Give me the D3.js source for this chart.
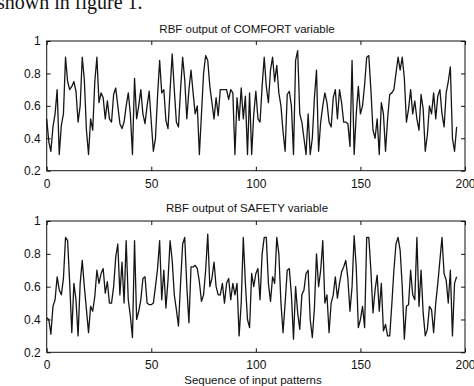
<!DOCTYPE html>
<html>
<head>
<meta charset="utf-8">
<script src="https://cdn.jsdelivr.net/npm/d3@7"></script>
<style>
  body { margin: 0; background: #fff; }
  svg { display: block; }
  text { font-family: "Liberation Sans", Arial, sans-serif; fill: #111; }
</style>
</head>
<body>
<div id="chart"></div>
<script>
// values, one per input pattern (0..196)
var comfort = [
  0.52, 0.38, 0.32, 0.47, 0.55, 0.70, 0.30, 0.48, 0.55, 0.90,
  0.75, 0.70, 0.72, 0.75, 0.69, 0.50, 0.60, 0.90, 0.76, 0.45,
  0.30, 0.52, 0.45, 0.75, 0.90, 0.62, 0.68, 0.65, 0.52, 0.63,
  0.52, 0.50, 0.67, 0.71, 0.60, 0.49, 0.46, 0.50, 0.60, 0.68,
  0.55, 0.30, 0.77, 0.52, 0.60, 0.70, 0.55, 0.49, 0.60, 0.69,
  0.50, 0.32, 0.40, 0.66, 0.88, 0.68, 0.70, 0.51, 0.46, 0.70,
  0.92, 0.70, 0.50, 0.47, 0.70, 0.90, 0.76, 0.52, 0.70, 0.82,
  0.68, 0.55, 0.60, 0.30, 0.55, 0.80, 0.91, 0.88, 0.72, 0.62,
  0.52, 0.65, 0.54, 0.70, 0.70, 0.70, 0.70, 0.64, 0.70, 0.68,
  0.30, 0.65, 0.51, 0.71, 0.52, 0.66, 0.30, 0.68, 0.30, 0.55,
  0.69, 0.52, 0.50, 0.72, 0.90, 0.72, 0.62, 0.82, 0.90, 0.75,
  0.85, 0.68, 0.60, 0.44, 0.32, 0.67, 0.69, 0.60, 0.30, 0.88,
  0.94, 0.55, 0.50, 0.40, 0.30, 0.55, 0.30, 0.40, 0.65, 0.82,
  0.32, 0.50, 0.60, 0.68, 0.62, 0.50, 0.47, 0.65, 0.70, 0.52,
  0.70, 0.62, 0.50, 0.50, 0.49, 0.35, 0.88, 0.30, 0.55, 0.72,
  0.55, 0.60, 0.73, 0.90, 0.91, 0.70, 0.45, 0.40, 0.52, 0.30,
  0.62, 0.55, 0.32, 0.52, 0.67, 0.68, 0.70, 0.80, 0.90, 0.82,
  0.90, 0.77, 0.50, 0.58, 0.70, 0.55, 0.63, 0.52, 0.45, 0.67,
  0.58, 0.32, 0.42, 0.60, 0.55, 0.68, 0.52, 0.66, 0.70, 0.55,
  0.47, 0.68, 0.75, 0.84, 0.40, 0.32, 0.47
];

var safety = [
  0.41, 0.40, 0.31, 0.48, 0.52, 0.66, 0.58, 0.55, 0.65, 0.90,
  0.88, 0.62, 0.32, 0.62, 0.52, 0.30, 0.62, 0.76, 0.60, 0.46,
  0.32, 0.48, 0.45, 0.54, 0.70, 0.62, 0.68, 0.71, 0.56, 0.63,
  0.50, 0.50, 0.60, 0.78, 0.86, 0.55, 0.75, 0.50, 0.88, 0.52,
  0.42, 0.29, 0.88, 0.40, 0.45, 0.52, 0.65, 0.66, 0.50, 0.49,
  0.49, 0.50, 0.60, 0.71, 0.88, 0.52, 0.70, 0.47, 0.64, 0.88,
  0.76, 0.55, 0.46, 0.36, 0.62, 0.86, 0.90, 0.60, 0.38, 0.72,
  0.72, 0.73, 0.71, 0.63, 0.51, 0.55, 0.70, 0.92, 0.60, 0.65,
  0.75, 0.60, 0.55, 0.55, 0.62, 0.50, 0.62, 0.65, 0.52, 0.62,
  0.55, 0.62, 0.30, 0.50, 0.90, 0.62, 0.40, 0.35, 0.68, 0.60,
  0.68, 0.71, 0.52, 0.80, 0.90, 0.90, 0.62, 0.51, 0.66, 0.62,
  0.90, 0.80, 0.50, 0.32, 0.50, 0.70, 0.71, 0.55, 0.28, 0.60,
  0.44, 0.34, 0.55, 0.58, 0.68, 0.70, 0.40, 0.29, 0.47, 0.80,
  0.60, 0.70, 0.88, 0.50, 0.55, 0.32, 0.50, 0.55, 0.66, 0.53,
  0.62, 0.69, 0.72, 0.76, 0.65, 0.45, 0.60, 0.91, 0.72, 0.35,
  0.40, 0.48, 0.35, 0.90, 0.90, 0.70, 0.44, 0.58, 0.67, 0.45,
  0.62, 0.33, 0.37, 0.30, 0.30, 0.49, 0.70, 0.86, 0.90, 0.82,
  0.60, 0.28, 0.48, 0.49, 0.70, 0.55, 0.52, 0.90, 0.48, 0.70,
  0.44, 0.30, 0.34, 0.48, 0.46, 0.32, 0.50, 0.62, 0.76, 0.90,
  0.68, 0.64, 0.50, 0.70, 0.30, 0.62, 0.66
];

var panelTitles = ['RBF output of COMFORT variable', 'RBF output of SAFETY variable'];
var xTicks = [0, 50, 100, 150, 200];
var yTicks = [0.2, 0.4, 0.6, 0.8, 1];

var W = 474, H = 386;
var left = 46.7, right = 465;

var svg = d3.select('#chart').append('svg')
  .attr('width', W)
  .attr('height', H);

// bit of the body text above the figure, cut by the page edge
svg.append('text')
  .attr('x', -3)
  .attr('y', 9)
  .style('font-family', '"Liberation Serif", "Times New Roman", serif')
  .style('font-size', '20px')
  .text('shown in figure 1.');

var x = d3.scaleLinear().domain([0, 200]).range([left, right]);

var panels = [
  { title: panelTitles[0], data: comfort, top: 41, bottom: 170.7, titleY: 33, pad: 9 },
  { title: panelTitles[1], data: safety, top: 221, bottom: 352.3, titleY: 212, pad: 8.5 }
];

panels.forEach(function (p) {
  var y = d3.scaleLinear().domain([0.2, 1]).range([p.bottom, p.top]);
  var g = svg.append('g');

  g.append('rect')
    .attr('x', left)
    .attr('y', p.top)
    .attr('width', right - left)
    .attr('height', p.bottom - p.top)
    .attr('fill', 'none')
    .attr('stroke', '#111')
    .attr('stroke-width', 1);

  // inward ticks on all four sides, labels only left and bottom
  var axisL = d3.axisLeft(y).tickValues(yTicks).tickSizeInner(-4).tickSizeOuter(0)
    .tickPadding(6).tickFormat(d3.format(''));
  var axisR = d3.axisRight(y).tickValues(yTicks).tickSizeInner(-4).tickSizeOuter(0).tickFormat('');
  var axisB = d3.axisBottom(x).tickValues(xTicks).tickSizeInner(-4).tickSizeOuter(0)
    .tickPadding(p.pad).tickFormat(d3.format(''));
  var axisT = d3.axisTop(x).tickValues(xTicks).tickSizeInner(-4).tickSizeOuter(0).tickFormat('');

  [[axisL, 'translate(' + left + ',0)'], [axisR, 'translate(' + right + ',0)'],
   [axisB, 'translate(0,' + p.bottom + ')'], [axisT, 'translate(0,' + p.top + ')']]
    .forEach(function (a) {
      var ag = g.append('g').attr('transform', a[1]).call(a[0]);
      ag.select('.domain').remove();
      ag.selectAll('line').attr('stroke', '#111');
      ag.selectAll('text')
        .style('font-family', '"Liberation Sans", Arial, sans-serif')
        .style('font-size', '12px')
        .attr('fill', '#111');
    });

  var line = d3.line()
    .x(function (d, i) { return x(i); })
    .y(function (d) { return y(d); });

  g.append('path')
    .datum(p.data)
    .attr('d', line)
    .attr('fill', 'none')
    .attr('stroke', '#151515')
    .attr('stroke-width', 1.3)
    .attr('stroke-linejoin', 'round');

  g.append('text')
    .attr('x', 247)
    .attr('y', p.titleY)
    .attr('text-anchor', 'middle')
    .style('font-size', '11.5px')
    .text(p.title);
});

svg.append('text')
  .attr('x', 253)
  .attr('y', 384)
  .attr('text-anchor', 'middle')
  .style('font-size', '11.5px')
  .text('Sequence of input patterns');
</script>
</body>
</html>
